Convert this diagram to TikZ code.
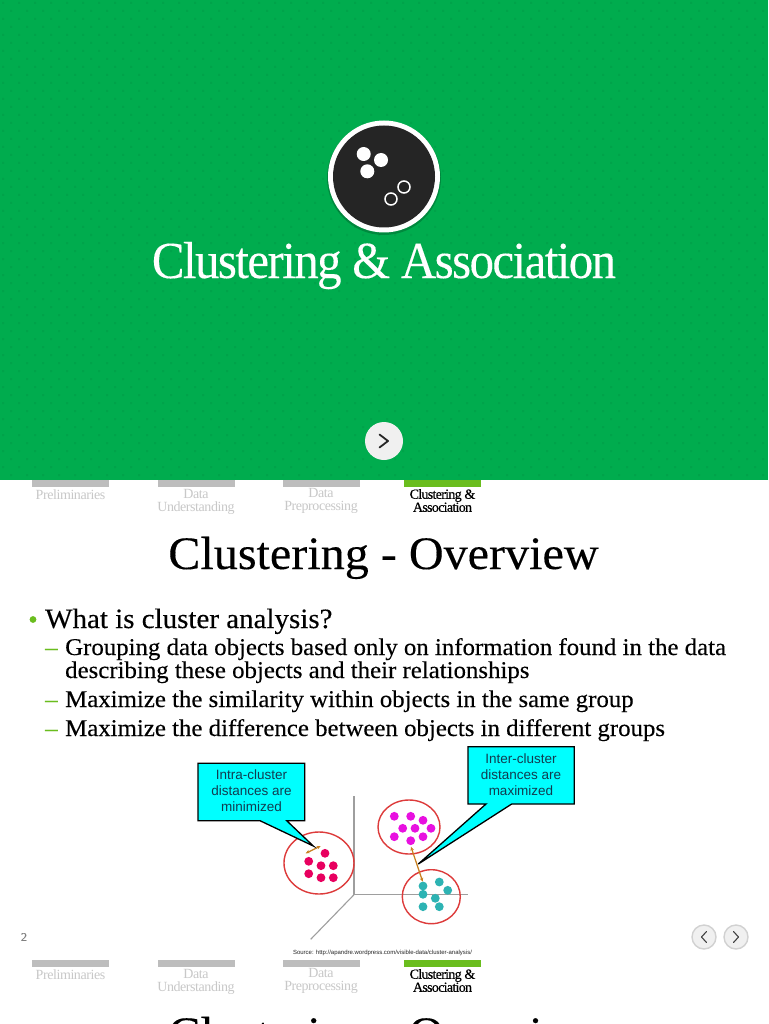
\documentclass[tikz,border=0pt]{standalone}
\usepackage{fontspec}
\setmainfont{Liberation Serif}
\newfontfamily\bodyfont[FakeStretch=1.035,FakeBold=0.25]{Liberation Serif}
\newfontfamily\bannerfont[FakeStretch=0.94,LetterSpace=-3,FakeBold=0.2]{Liberation Serif}
\newfontfamily\tabfont[LetterSpace=-3]{Liberation Serif}
\newfontfamily\tabonfont[LetterSpace=-5,FakeBold=0.5]{Liberation Serif}
\newfontfamily\labelfont{Liberation Sans}
\newcommand{\fs}[1]{\fontsize{#1}{#1}\selectfont}
\definecolor{slidegreen}{HTML}{00AC4E}
\definecolor{tabgreen}{HTML}{6ABD1E}
\definecolor{tabgray}{HTML}{BDBDBD}
\definecolor{tabtext}{HTML}{C8C8C8}
\definecolor{logodark}{HTML}{252525}
\definecolor{callcyan}{HTML}{00FFFF}
\definecolor{calltextc}{HTML}{123C50}
\definecolor{ringred}{HTML}{DD3B3B}
\definecolor{dotred}{HTML}{E8005F}
\definecolor{dotpurple}{HTML}{E810E0}
\definecolor{dotteal}{HTML}{2DB3B3}
\definecolor{arroworange}{HTML}{C97F1E}
\definecolor{bulletgreen}{HTML}{6ABD1E}
\usetikzlibrary{arrows.meta}
\tikzset{
  tabbar/.style={fill=tabgray,draw=none,minimum width=77pt,minimum height=7pt,inner sep=0pt},
  tabon/.style={tabbar,fill=tabgreen},
  tablabel/.style={font=\tabfont\fs{14},text=tabtext,inner sep=0pt,anchor=center,align=center},
  tabonlabel/.style={font=\tabonfont\fs{14},text=black,inner sep=0pt,anchor=center,align=center},
  heading/.style={font=\bodyfont\fs{46.5},text=black,inner sep=0pt,anchor=base},
  mainline/.style={font=\bodyfont\fs{28},text=black,inner sep=0pt,anchor=base west},
  subline/.style={font=\bodyfont\fs{24},text=black,inner sep=0pt,anchor=base west},
  callout/.style={fill=callcyan,draw=black,line width=1.3pt,line join=miter},
  calltext/.style={font=\labelfont\fs{13.5},align=center,inner sep=0pt,text=calltextc},
  clusterring/.style={draw=ringred,line width=1.4pt},
  axisline/.style={draw=black!38,line width=1.1pt},
  dist/.style={draw=arroworange,line width=1.2pt,{Stealth[length=4pt,width=3.5pt]}-{Stealth[length=4pt,width=3.5pt]}},
  navbtn/.style={circle,fill=white!94!black,draw=black!18,line width=1.4pt,inner sep=0pt,minimum size=24pt},
  chev/.style={draw=black!75,line width=1.1pt,line cap=round,line join=round},
}
\newcommand{\tabrow}[1]{%
  \node[tabbar] (p#1) at (70.5,#1+3.5) {};
  \node[tabbar] (d#1) at (196,#1+3.5) {};
  \node[tabbar] (e#1) at (321.5,#1+3.5) {};
  \node[tabon]  (c#1) at (442.5,#1+3.5) {};
  \node[tablabel] (pa#1) at (70.5,#1+15) {Preliminaries};
  \node[tablabel] (da#1) at (196,#1+21.5) {Data\\[-1pt]Understanding};
  \node[tablabel] (ea#1) at (321,#1+20.5) {Data\\[-1pt]Preprocessing};
  \node[tabonlabel] (ca#1) at (442.5,#1+20.5) {Clustering \&\\[-1pt]Association};
}
\begin{document}
\begin{tikzpicture}[x=1pt,y=-1pt]
\useasboundingbox (0,0) rectangle (768,1024);
\clip (0,0) rectangle (768,1024);
\fill[white] (0,0) rectangle (768,1024);
\fill[slidegreen] (0,0) rectangle (768,480);
\fill[black,opacity=0.05] \foreach \i in {0,...,47} {\foreach \j in {0,...,29} {
  (16*\i+2,16*\j+2) rectangle +(2,2) (16*\i+10,16*\j+10) rectangle +(2,2)}};
% logo
\fill[black,opacity=0.2] (384,178) circle (57);
\fill[white] (384,176.5) circle (56);
\fill[logodark] (384,176.5) circle (51);
\fill[white] (363.7,154) circle (7) (381,160) circle (7) (367.3,171.3) circle (7);
\draw[white,line width=1.5pt] (404,187) circle (6) (391,199) circle (6);
\node[font=\bannerfont\fs{52},text=white,inner sep=0pt,anchor=base] (title) at (384,278) {Clustering \& Association};
% next button
\node[navbtn,minimum size=38pt,draw=none] (nextbig) at (384,441) {};
\draw[chev,line width=1.8pt,black!85] (379.5,434.5) -- (388,441) -- (379.5,447.5);
% slide 2
\tabrow{480}
\node[heading] (h2) at (383.5,569) {Clustering - Overview};
\fill[bulletgreen] (33,619.5) circle (3.4);
\node[mainline] (t0) at (45,628) {What is cluster analysis?};
\node[subline,text=bulletgreen] (b1) at (45,655) {–};
\node[subline] (t1) at (65,655) {Grouping data objects based only on information found in the data};
\node[subline] (t2) at (65,678) {describing these objects and their relationships};
\node[subline,text=bulletgreen] (b3) at (45,707) {–};
\node[subline] (t3) at (65,707) {Maximize the similarity within objects in the same group};
\node[subline,text=bulletgreen] (b4) at (45,736) {–};
\node[subline] (t4) at (65,736) {Maximize the difference between objects in different groups};
% axes
\draw[axisline] (354,796) -- (354,894.7) -- (468.3,894.7);
\draw[axisline] (354,894.7) -- (310.7,939.3);
% clusters
\draw[clusterring] (319,863) ellipse (35 and 31);
\draw[clusterring] (409,827) ellipse (31 and 27);
\draw[clusterring] (431.3,896.7) ellipse (29 and 27);
\fill[dotred] \foreach \p in {(325,853.3),(308.7,861.3),(321,865.7),(333.3,865.7),(308.7,873.7),(321,877.7),(333.3,877.7)} {\p circle (4.4)};
\fill[dotpurple] \foreach \p in {(394.3,816.3),(410.7,816.3),(423,820.3),(402.7,828.3),(415,828.3),(431,828.3),(394.3,836.7),(410.7,840.7),(423,836.7)} {\p circle (4.4)};
\fill[dotteal] \foreach \p in {(423,886),(439.3,882),(447.7,890.3),(423,894.3),(435.3,898.3),(423,906.7),(439.3,906.7)} {\p circle (4.4)};
\coordinate (ia) at (305.7,853.3);
\coordinate (ib) at (320.7,846);
\draw[dist] (ia) -- (ib);
\coordinate (oa) at (411,846.7);
\coordinate (ob) at (422.7,881.7);
\draw[dist] (oa) -- (ob);
% callouts
\draw[callout] (198,763.3) -- (304.7,763.3) -- (304.7,820.7) -- (286.7,820.7) -- (313.3,846) -- (260,820.7) -- (198,820.7) -- cycle;
\node[calltext] (c1) at (251.5,791) {Intra-cluster\\[2.6pt]distances are\\[2.6pt]minimized};
\draw[callout] (468,746.7) -- (574.3,746.7) -- (574.3,804) -- (511.7,804) -- (418.3,864) -- (486,804) -- (468,804) -- cycle;
\node[calltext] (c2) at (521,775) {Inter-cluster\\[2.6pt]distances are\\[2.6pt]maximized};
% footer
\node[font=\bodyfont\fs{12},text=black!50,inner sep=0pt] (num) at (24,937) {2};
\node[font=\labelfont\fs{6},text=black!85,inner sep=0pt] (src) at (382.5,953) {Source: http://apandre.wordpress.com/visible-data/cluster-analysis/};
\node[navbtn] (prevb) at (704,937) {};
\node[navbtn] (nextb) at (736,937) {};
\draw[chev] (706.5,931.5) -- (701.5,937) -- (706.5,942.5);
\draw[chev] (733.5,931.5) -- (738.5,937) -- (733.5,942.5);
% slide 3
\tabrow{960}
\node[heading] (h3) at (383.5,1049) {Clustering - Overview};
\end{tikzpicture}
\end{document}
